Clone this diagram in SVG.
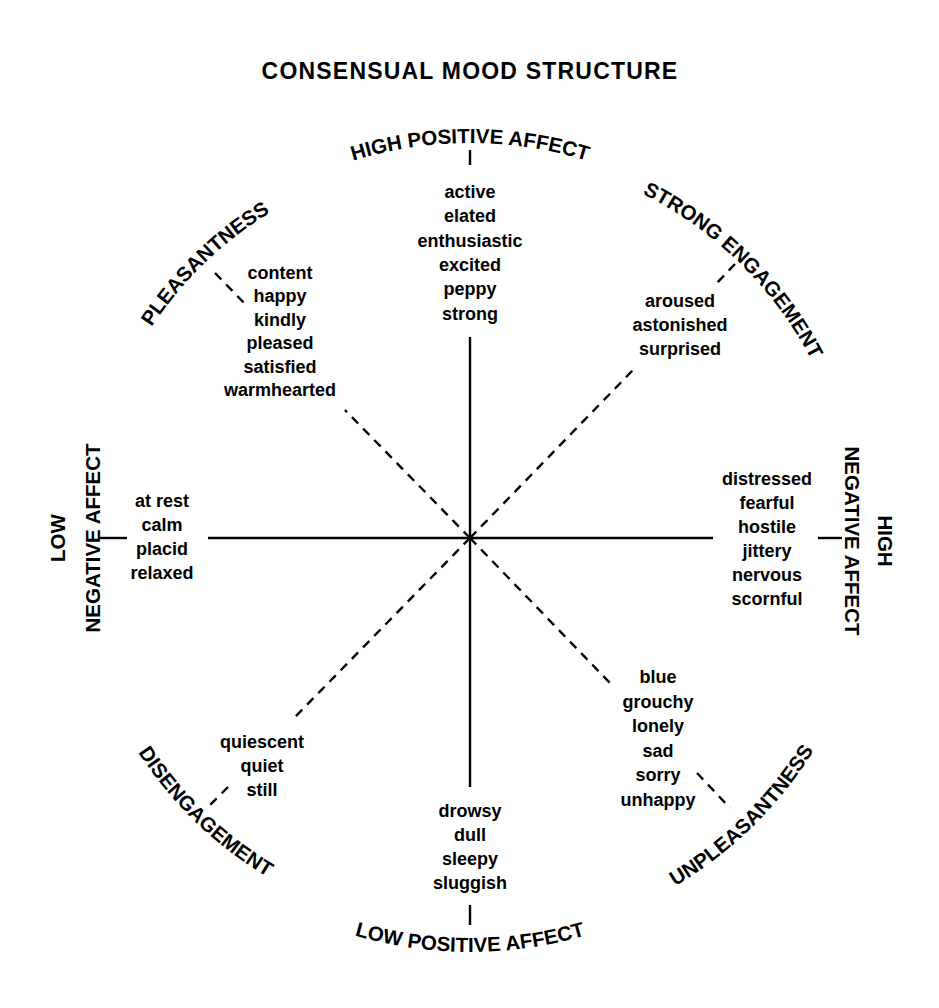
<svg xmlns="http://www.w3.org/2000/svg" xmlns:xlink="http://www.w3.org/1999/xlink" width="939" height="1008" viewBox="0 0 939 1008">
<style>
text{font-family:"Liberation Sans",Arial,Helvetica,sans-serif;font-weight:bold;fill:#000}
.title{font-size:23px;letter-spacing:1.2px}
.lab{font-size:20.5px}
.w{font-size:18px;text-anchor:middle}
.solid{stroke:#000;stroke-width:2.4;fill:none}
.dash{stroke:#000;stroke-width:2.4;fill:none;stroke-dasharray:9 7}
</style>
<defs>
<path id="pTop" d="M216.1,235.4 A395,395 0 0,1 723.9,235.4"/>
<path id="pNW" d="M90.1,498.1 A382,382 0 0,1 443.3,156.9"/>
<path id="pNE" d="M500.2,154.2 A385,385 0 0,1 853.2,501.1"/>
<path id="pBot" d="M203.9,855.1 A414,414 0 0,0 736.1,855.1"/>
<path id="pSW" d="M77.2,579.3 A395,395 0 0,0 442.4,932.1"/>
<path id="pSE" d="M501,940.8 A404,404 0 0,0 872.1,577.4"/>
</defs>
<rect width="939" height="1008" fill="#fff"/>
<text class="title" x="470" y="79" text-anchor="middle">CONSENSUAL MOOD STRUCTURE</text>
<g id="connectors">
<line class="solid" x1="470" y1="337" x2="470" y2="787"/>
<line class="solid" x1="208" y1="538" x2="713" y2="538"/>
<line class="solid" x1="470" y1="150" x2="470" y2="165"/>
<line class="solid" x1="470" y1="905" x2="470" y2="925"/>
<line class="solid" x1="100" y1="538" x2="127" y2="538"/>
<line class="solid" x1="818" y1="538" x2="842" y2="538"/>
<line class="dash" x1="470" y1="538" x2="345" y2="410"/>
<line class="dash" x1="470" y1="538" x2="633" y2="370"/>
<line class="dash" x1="470" y1="538" x2="610" y2="683"/>
<line class="dash" x1="470" y1="538" x2="295" y2="717"/>
<line class="dash" x1="215" y1="273" x2="248" y2="307"/>
<line class="dash" x1="735" y1="264" x2="715" y2="285"/>
<line class="dash" x1="697" y1="773" x2="730" y2="808"/>
<line class="dash" x1="228" y1="787" x2="208" y2="807"/>
</g>
<g id="high-positive-affect">
<text class="lab"><textPath xlink:href="#pTop" href="#pTop" startOffset="50%" text-anchor="middle">HIGH POSITIVE AFFECT</textPath></text>
<text class="w" x="470" y="198">active</text>
<text class="w" x="470" y="222.3">elated</text>
<text class="w" x="470" y="246.6">enthusiastic</text>
<text class="w" x="470" y="270.9">excited</text>
<text class="w" x="470" y="295.2">peppy</text>
<text class="w" x="470" y="319.5">strong</text>
</g>
<g id="pleasantness">
<text class="lab"><textPath xlink:href="#pNW" href="#pNW" startOffset="50%" text-anchor="middle">PLEASANTNESS</textPath></text>
<text class="w" x="280" y="278.5">content</text>
<text class="w" x="280" y="302">happy</text>
<text class="w" x="280" y="325.5">kindly</text>
<text class="w" x="280" y="349">pleased</text>
<text class="w" x="280" y="372.5">satisfied</text>
<text class="w" x="280" y="396">warmhearted</text>
</g>
<g id="strong-engagement">
<text class="lab"><textPath xlink:href="#pNE" href="#pNE" startOffset="50%" text-anchor="middle">STRONG ENGAGEMENT</textPath></text>
<text class="w" x="680" y="307">aroused</text>
<text class="w" x="680" y="331">astonished</text>
<text class="w" x="680" y="355">surprised</text>
</g>
<g id="low-negative-affect">
<text class="lab" transform="translate(65,538) rotate(-90)" text-anchor="middle">LOW</text>
<text class="lab" transform="translate(100,538) rotate(-90)" text-anchor="middle">NEGATIVE AFFECT</text>
<text class="w" x="162" y="507">at rest</text>
<text class="w" x="162" y="531">calm</text>
<text class="w" x="162" y="555">placid</text>
<text class="w" x="162" y="579">relaxed</text>
</g>
<g id="high-negative-affect">
<text class="lab" transform="translate(878,541) rotate(90)" text-anchor="middle">HIGH</text>
<text class="lab" transform="translate(845,541) rotate(90)" text-anchor="middle">NEGATIVE AFFECT</text>
<text class="w" x="767" y="485">distressed</text>
<text class="w" x="767" y="509">fearful</text>
<text class="w" x="767" y="533">hostile</text>
<text class="w" x="767" y="557">jittery</text>
<text class="w" x="767" y="581">nervous</text>
<text class="w" x="767" y="605">scornful</text>
</g>
<g id="unpleasantness">
<text class="lab"><textPath xlink:href="#pSE" href="#pSE" startOffset="50%" text-anchor="middle">UNPLEASANTNESS</textPath></text>
<text class="w" x="658" y="683">blue</text>
<text class="w" x="658" y="707.5">grouchy</text>
<text class="w" x="658" y="732">lonely</text>
<text class="w" x="658" y="756.5">sad</text>
<text class="w" x="658" y="781">sorry</text>
<text class="w" x="658" y="805.5">unhappy</text>
</g>
<g id="disengagement">
<text class="lab"><textPath xlink:href="#pSW" href="#pSW" startOffset="50%" text-anchor="middle">DISENGAGEMENT</textPath></text>
<text class="w" x="262" y="748">quiescent</text>
<text class="w" x="262" y="772">quiet</text>
<text class="w" x="262" y="796">still</text>
</g>
<g id="low-positive-affect">
<text class="lab"><textPath xlink:href="#pBot" href="#pBot" startOffset="50%" text-anchor="middle">LOW POSITIVE AFFECT</textPath></text>
<text class="w" x="470" y="817">drowsy</text>
<text class="w" x="470" y="841">dull</text>
<text class="w" x="470" y="865">sleepy</text>
<text class="w" x="470" y="889">sluggish</text>
</g>
</svg>
